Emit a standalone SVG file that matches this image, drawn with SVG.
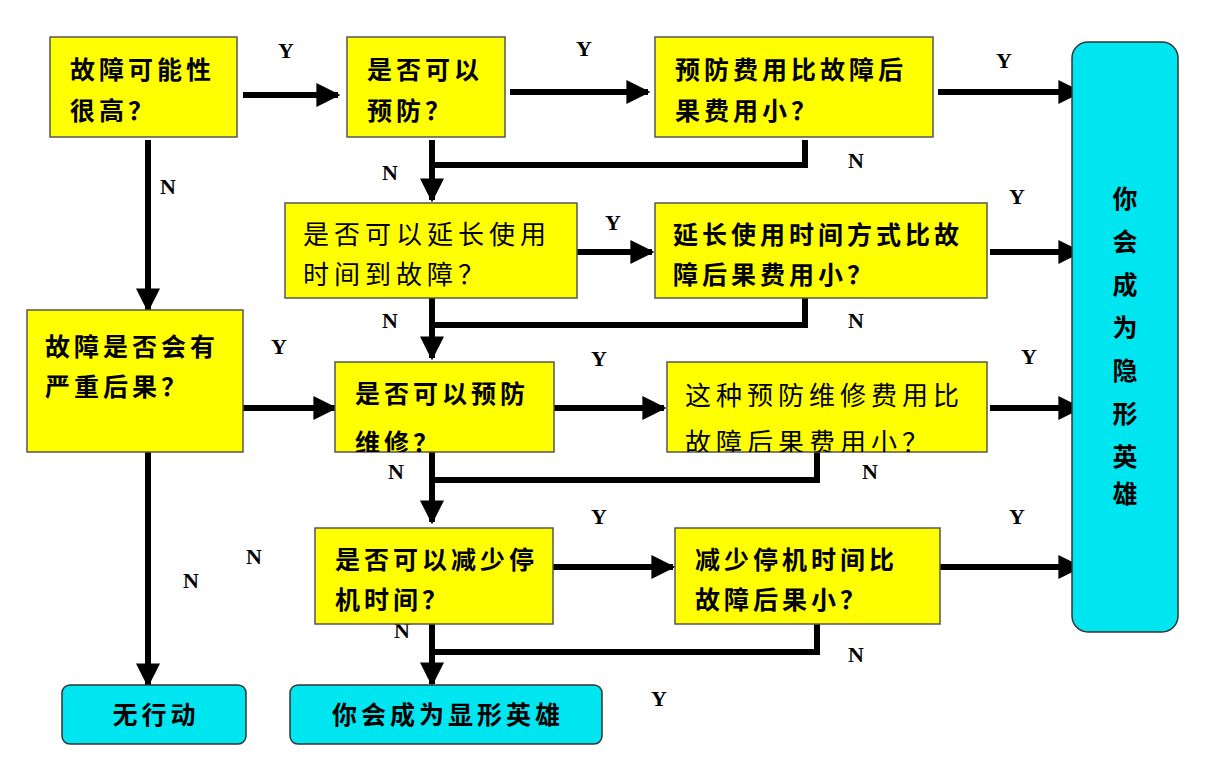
<svg xmlns="http://www.w3.org/2000/svg" width="1224" height="782" viewBox="0 0 1224 782">
<style>
.b{fill:#ffff00;stroke:#555;stroke-width:1.5}
.c{fill:#00e6f0;stroke:#333;stroke-width:1.5}
text{font-family:"Noto Sans CJK SC","Liberation Sans",sans-serif;font-size:25px;fill:#000}
.t{font-weight:bold;letter-spacing:4px}
.n{font-weight:normal;font-size:26px;letter-spacing:5px}
.l{font-family:"Liberation Serif",serif;font-weight:bold;font-size:22px;letter-spacing:0}
.w{fill:none;stroke:#000;stroke-width:6}
</style>
<defs>
<marker id="a" viewBox="0 0 10 10" refX="9" refY="5" markerWidth="4" markerHeight="4" orient="auto" markerUnits="strokeWidth"><path d="M0,0L10,5L0,10z" fill="#000"/></marker>
<clipPath id="cg"><rect x="335" y="362" width="219" height="90"/></clipPath>
<clipPath id="ch"><rect x="667" y="362" width="320" height="90"/></clipPath>
</defs>
<rect width="1224" height="782" fill="#fff"/>
<g id="connectors">
<path class="w" marker-end="url(#a)" d="M243,95H338"/>
<path class="w" marker-end="url(#a)" d="M510,92H648"/>
<path class="w" marker-end="url(#a)" d="M938,92H1080"/>
<path class="w" marker-end="url(#a)" d="M432,140V200"/>
<path class="w" d="M805,140V165H432"/>
<path class="w" marker-end="url(#a)" d="M577,252H652"/>
<path class="w" marker-end="url(#a)" d="M990,252H1080"/>
<path class="w" marker-end="url(#a)" d="M432,298V358"/>
<path class="w" d="M805,298V325H432"/>
<path class="w" marker-end="url(#a)" d="M148,140V310"/>
<path class="w" marker-end="url(#a)" d="M243,408H335"/>
<path class="w" marker-end="url(#a)" d="M554,408H664"/>
<path class="w" marker-end="url(#a)" d="M990,408H1080"/>
<path class="w" marker-end="url(#a)" d="M432,452V522"/>
<path class="w" d="M817,452V480H432"/>
<path class="w" marker-end="url(#a)" d="M148,452V685"/>
<path class="w" marker-end="url(#a)" d="M553,567H673"/>
<path class="w" marker-end="url(#a)" d="M940,567H1080"/>
<path class="w" marker-end="url(#a)" d="M432,624V684"/>
<path class="w" d="M817,624V652H432"/>
</g>
<g id="labels">
<text class="l" x="278" y="58">Y</text><text class="l" x="576" y="56">Y</text><text class="l" x="996" y="68">Y</text>
<text class="l" x="382" y="180">N</text><text class="l" x="848" y="168">N</text>
<text class="l" x="605" y="230">Y</text><text class="l" x="1009" y="204">Y</text>
<text class="l" x="382" y="328">N</text><text class="l" x="848" y="328">N</text>
<text class="l" x="160" y="194">N</text>
<text class="l" x="271" y="354">Y</text><text class="l" x="591" y="366">Y</text><text class="l" x="1021" y="364">Y</text>
<text class="l" x="388" y="479">N</text><text class="l" x="862" y="479">N</text>
<text class="l" x="183" y="588">N</text><text class="l" x="246" y="564">N</text>
<text class="l" x="591" y="524">Y</text><text class="l" x="1009" y="524">Y</text>
<text class="l" x="394" y="638">N</text><text class="l" x="848" y="662">N</text>
<text class="l" x="651" y="706">Y</text>
</g>
<g id="nA"><rect class="b" x="50" y="37" width="187" height="100"/><text class="t" x="70" y="79">故障可能性</text><text class="t" x="70" y="120">很高？</text></g>
<g id="nB"><rect class="b" x="347" y="37" width="158" height="100"/><text class="t" x="367" y="79">是否可以</text><text class="t" x="367" y="120">预防？</text></g>
<g id="nC"><rect class="b" x="655" y="37" width="278" height="100"/><text class="t" x="675" y="79">预防费用比故障后</text><text class="t" x="675" y="120">果费用小？</text></g>
<g id="nD"><rect class="b" x="285" y="203" width="292" height="95"/><text class="n" x="303" y="244">是否可以延长使用</text><text class="n" x="303" y="284">时间到故障？</text></g>
<g id="nE"><rect class="b" x="655" y="203" width="332" height="95"/><text class="t" x="673" y="244">延长使用时间方式比故</text><text class="t" x="673" y="284">障后果费用小？</text></g>
<g id="nF"><rect class="b" x="27" y="310" width="216" height="142"/><text class="t" x="45" y="356">故障是否会有</text><text class="t" x="45" y="396">严重后果？</text></g>
<g id="nG"><rect class="b" x="335" y="362" width="219" height="90"/><g clip-path="url(#cg)"><text class="t" x="355" y="403">是否可以预防</text><text class="t" x="355" y="452">维修？</text></g></g>
<g id="nH"><rect class="b" x="667" y="362" width="320" height="90"/><g clip-path="url(#ch)"><text class="n" x="685" y="405">这种预防维修费用比</text><text class="n" x="685" y="452">故障后果费用小？</text></g></g>
<g id="nI"><rect class="b" x="315" y="528" width="238" height="96"/><text class="t" x="335" y="569">是否可以减少停</text><text class="t" x="335" y="609">机时间？</text></g>
<g id="nJ"><rect class="b" x="675" y="528" width="265" height="96"/><text class="t" x="695" y="569">减少停机时间比</text><text class="t" x="695" y="609">故障后果小？</text></g>
<g id="nR"><rect class="c" x="1072" y="42" width="106" height="590" rx="16"/>
<text class="t" text-anchor="middle" x="1127" y="208">你</text><text class="t" text-anchor="middle" x="1127" y="251">会</text><text class="t" text-anchor="middle" x="1127" y="294">成</text><text class="t" text-anchor="middle" x="1127" y="337">为</text><text class="t" text-anchor="middle" x="1127" y="380">隐</text><text class="t" text-anchor="middle" x="1127" y="423">形</text><text class="t" text-anchor="middle" x="1127" y="466">英</text><text class="t" text-anchor="middle" x="1127" y="503">雄</text></g>
<g id="nK"><rect class="c" x="62" y="685" width="184" height="59" rx="8"/><text class="t" text-anchor="middle" x="156" y="724">无行动</text></g>
<g id="nL"><rect class="c" x="290" y="685" width="312" height="59" rx="8"/><text class="t" text-anchor="middle" x="448" y="724">你会成为显形英雄</text></g>
</svg>
